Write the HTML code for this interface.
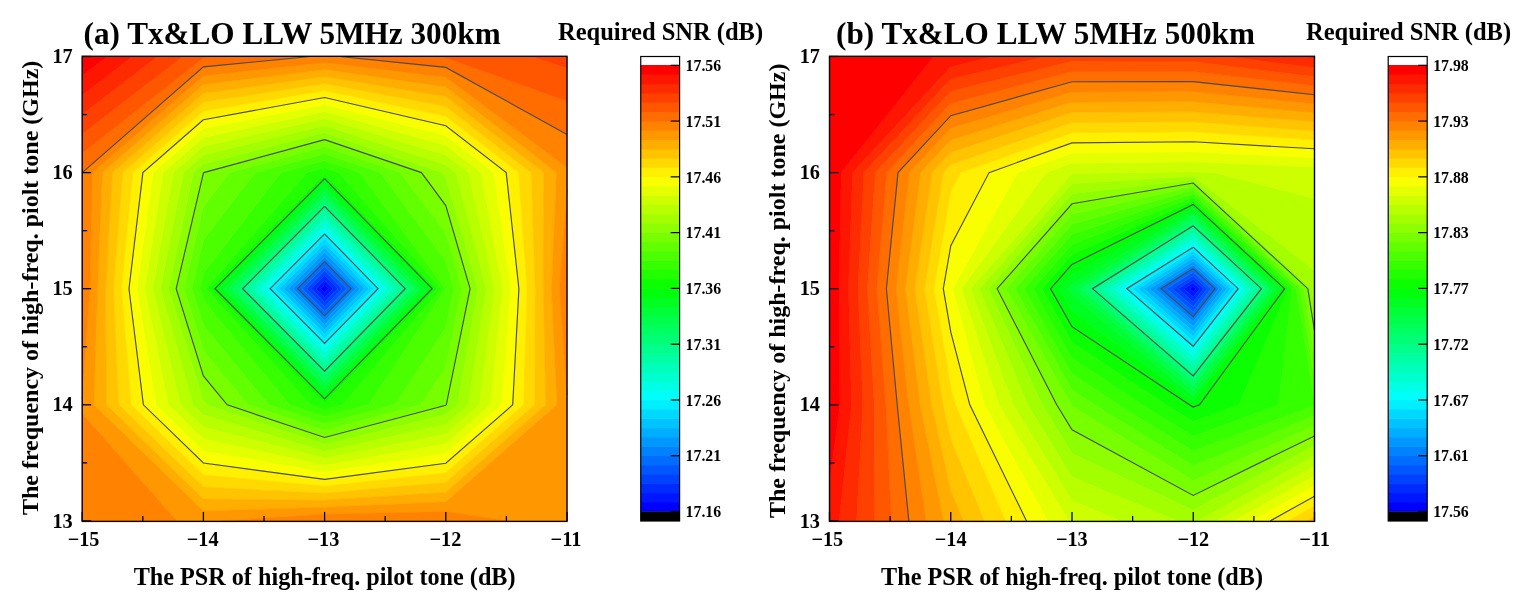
<!DOCTYPE html>
<html><head><meta charset="utf-8"><title>Required SNR contour maps</title>
<style>
html,body{margin:0;padding:0;background:#fff;}
body{width:1523px;height:603px;overflow:hidden;}
svg{display:block;}
text{font-family:"Liberation Serif","Times New Roman",serif;font-weight:bold;fill:#000;}
.ti{font-size:31.2px;}
.cbt{font-size:24.5px;}
.cb{font-size:15.8px;}
.tk{font-size:20.3px;}
.ax{font-size:24.2px;}
.ay{font-size:24px;}
</style></head><body>
<svg width="1523" height="603" viewBox="0 0 1523 603">
<rect width="1523" height="603" fill="#fff"/>
<path fill="#0000ff" stroke="#0000ff" stroke-width="0.6" d="M320.6 288.7L324.6 284.7L328.5 288.7L324.6 292.7L320.6 288.7Z"/>
<path fill="#0016ff" stroke="#0016ff" stroke-width="0.6" d="M316.0 288.7L324.6 280.1L333.0 288.7L324.6 297.3L316.0 288.7ZM324.6 284.7L320.6 288.7L324.6 292.7L328.5 288.7L324.6 284.7Z"/>
<path fill="#002bff" stroke="#002bff" stroke-width="0.6" d="M311.4 288.7L324.6 275.4L337.6 288.7L324.6 302.0L311.4 288.7ZM324.6 280.1L316.0 288.7L324.6 297.3L333.0 288.7L324.6 280.1Z"/>
<path fill="#0041ff" stroke="#0041ff" stroke-width="0.6" d="M306.8 288.7L324.6 270.8L342.1 288.7L324.6 306.6L306.8 288.7ZM324.6 275.4L311.4 288.7L324.6 302.0L337.6 288.7L324.6 275.4Z"/>
<path fill="#0057ff" stroke="#0057ff" stroke-width="0.6" d="M302.2 288.7L324.6 266.2L346.6 288.7L324.6 311.2L302.2 288.7ZM324.6 270.8L306.8 288.7L324.6 306.6L342.1 288.7L324.6 270.8Z"/>
<path fill="#006dff" stroke="#006dff" stroke-width="0.6" d="M297.6 288.7L324.6 261.6L351.1 288.7L324.6 315.8L297.6 288.7ZM324.6 266.2L302.2 288.7L324.6 311.2L346.6 288.7L324.6 266.2Z"/>
<path fill="#0082ff" stroke="#0082ff" stroke-width="0.6" d="M293.1 288.7L324.6 257.0L355.6 288.7L324.6 320.4L293.1 288.7ZM324.6 261.6L297.6 288.7L324.6 315.8L351.1 288.7L324.6 261.6Z"/>
<path fill="#0098ff" stroke="#0098ff" stroke-width="0.6" d="M288.5 288.7L324.6 252.4L360.1 288.7L324.6 325.0L288.5 288.7ZM324.6 257.0L293.1 288.7L324.6 320.4L355.6 288.7L324.6 257.0Z"/>
<path fill="#00aeff" stroke="#00aeff" stroke-width="0.6" d="M283.9 288.7L324.6 247.8L364.6 288.7L324.6 329.6L283.9 288.7ZM324.6 252.4L288.5 288.7L324.6 325.0L360.1 288.7L324.6 252.4Z"/>
<path fill="#00c3ff" stroke="#00c3ff" stroke-width="0.6" d="M279.3 288.7L324.6 243.2L369.1 288.7L324.6 334.2L279.3 288.7ZM324.6 247.8L283.9 288.7L324.6 329.6L364.6 288.7L324.6 247.8Z"/>
<path fill="#00d9ff" stroke="#00d9ff" stroke-width="0.6" d="M274.7 288.7L324.6 238.5L373.6 288.7L324.6 338.8L274.7 288.7ZM324.6 243.2L279.3 288.7L324.6 334.2L369.1 288.7L324.6 243.2Z"/>
<path fill="#00efff" stroke="#00efff" stroke-width="0.6" d="M270.1 288.7L324.6 233.9L378.1 288.7L324.6 343.5L270.1 288.7ZM324.6 238.5L274.7 288.7L324.6 338.8L373.6 288.7L324.6 238.5Z"/>
<path fill="#00fffa" stroke="#00fffa" stroke-width="0.6" d="M265.5 288.7L324.6 229.3L382.6 288.7L324.6 348.1L265.5 288.7ZM324.6 233.9L270.1 288.7L324.6 343.5L378.1 288.7L324.6 233.9Z"/>
<path fill="#00ffe4" stroke="#00ffe4" stroke-width="0.6" d="M260.9 288.7L324.6 224.7L387.1 288.7L324.6 352.7L260.9 288.7ZM324.6 229.3L265.5 288.7L324.6 348.1L382.6 288.7L324.6 229.3Z"/>
<path fill="#00ffce" stroke="#00ffce" stroke-width="0.6" d="M256.3 288.7L324.6 220.1L391.6 288.7L324.6 357.3L256.3 288.7ZM324.6 224.7L260.9 288.7L324.6 352.7L387.1 288.7L324.6 224.7Z"/>
<path fill="#00ffb8" stroke="#00ffb8" stroke-width="0.6" d="M251.7 288.7L324.6 215.5L396.2 288.7L324.6 361.9L251.7 288.7ZM324.6 220.1L256.3 288.7L324.6 357.3L391.6 288.7L324.6 220.1Z"/>
<path fill="#00ffa3" stroke="#00ffa3" stroke-width="0.6" d="M247.1 288.7L324.6 210.9L400.7 288.7L324.6 366.5L247.1 288.7ZM324.6 215.5L251.7 288.7L324.6 361.9L396.2 288.7L324.6 215.5Z"/>
<path fill="#00ff8d" stroke="#00ff8d" stroke-width="0.6" d="M242.6 288.7L324.6 206.3L405.2 288.7L324.6 371.1L242.6 288.7ZM324.6 210.9L247.1 288.7L324.6 366.5L400.7 288.7L324.6 210.9Z"/>
<path fill="#00ff77" stroke="#00ff77" stroke-width="0.6" d="M238.0 288.7L324.6 201.6L409.7 288.7L324.6 375.7L238.0 288.7ZM324.6 206.3L242.6 288.7L324.6 371.1L405.2 288.7L324.6 206.3Z"/>
<path fill="#00ff62" stroke="#00ff62" stroke-width="0.6" d="M233.4 288.7L324.6 197.0L414.2 288.7L324.6 380.4L233.4 288.7ZM324.6 201.6L238.0 288.7L324.6 375.7L409.7 288.7L324.6 201.6Z"/>
<path fill="#00ff4c" stroke="#00ff4c" stroke-width="0.6" d="M228.8 288.7L324.6 192.4L418.7 288.7L324.6 385.0L228.8 288.7ZM324.6 197.0L233.4 288.7L324.6 380.4L414.2 288.7L324.6 197.0Z"/>
<path fill="#00ff36" stroke="#00ff36" stroke-width="0.6" d="M224.2 288.7L324.6 187.8L423.2 288.7L324.6 389.6L224.2 288.7ZM324.6 192.4L228.8 288.7L324.6 385.0L418.7 288.7L324.6 192.4Z"/>
<path fill="#00ff21" stroke="#00ff21" stroke-width="0.6" d="M219.6 288.7L324.6 183.2L427.7 288.7L324.6 394.2L219.6 288.7ZM324.6 187.8L224.2 288.7L324.6 389.6L423.2 288.7L324.6 187.8Z"/>
<path fill="#00ff0b" stroke="#00ff0b" stroke-width="0.6" d="M215.0 288.7L324.6 178.6L432.2 288.7L324.6 398.8L215.0 288.7ZM324.6 183.2L219.6 288.7L324.6 394.2L427.7 288.7L324.6 183.2Z"/>
<path fill="#0bff00" stroke="#0bff00" stroke-width="0.6" d="M210.4 288.7L324.6 174.0L436.7 288.7L324.6 403.4L210.4 288.7ZM324.6 178.6L215.0 288.7L324.6 398.8L432.2 288.7L324.6 178.6Z"/>
<path fill="#21ff00" stroke="#21ff00" stroke-width="0.6" d="M306.5 172.6L324.6 167.7L339.1 172.6L441.2 288.7L342.9 404.8L324.6 409.7L310.1 404.8L205.8 288.7L306.5 172.6ZM324.6 174.0L210.4 288.7L324.6 403.4L436.7 288.7L324.6 174.0Z"/>
<path fill="#36ff00" stroke="#36ff00" stroke-width="0.6" d="M280.8 172.6L324.6 160.6L359.7 172.6L445.7 288.7L368.9 404.8L324.6 416.7L289.4 404.8L203.4 300.5L199.7 288.7L203.4 273.0L280.8 172.6ZM324.6 167.7L306.5 172.6L205.8 288.7L310.1 404.8L324.6 409.7L342.9 404.8L441.2 288.7L339.1 172.6L324.6 167.7Z"/>
<path fill="#4cff00" stroke="#4cff00" stroke-width="0.6" d="M255.1 172.6L324.6 153.6L380.3 172.6L445.8 261.2L453.8 288.7L445.8 327.7L395.0 404.8L324.6 423.6L268.7 404.8L203.4 325.6L191.9 288.7L203.4 239.7L255.1 172.6ZM324.6 160.6L280.8 172.6L203.4 273.0L199.7 288.7L203.4 300.5L289.4 404.8L324.6 416.7L368.9 404.8L445.7 288.7L359.7 172.6L324.6 160.6Z"/>
<path fill="#62ff00" stroke="#62ff00" stroke-width="0.6" d="M229.4 172.6L324.6 146.6L400.8 172.6L445.8 233.4L462.0 288.7L445.8 367.2L421.0 404.8L324.6 430.6L247.9 404.8L203.4 350.8L184.0 288.7L203.4 206.3L229.4 172.6ZM324.6 153.6L255.1 172.6L203.4 239.7L191.9 288.7L203.4 325.6L268.7 404.8L324.6 423.6L395.0 404.8L445.8 327.7L453.8 288.7L445.8 261.2L380.3 172.6L324.6 153.6Z"/>
<path fill="#77ff00" stroke="#77ff00" stroke-width="0.6" d="M203.7 172.6L324.6 139.6L421.4 172.6L445.8 205.6L470.1 288.7L446.3 404.8L445.8 405.3L324.6 437.5L227.2 404.8L203.4 375.9L176.2 288.7L203.4 173.0L203.7 172.6ZM324.6 146.6L229.4 172.6L203.4 206.3L184.0 288.7L203.4 350.8L247.9 404.8L324.6 430.6L421.0 404.8L445.8 367.2L462.0 288.7L445.8 233.4L400.8 172.6L324.6 146.6Z"/>
<path fill="#8dff00" stroke="#8dff00" stroke-width="0.6" d="M193.4 172.6L203.4 163.9L324.6 132.6L442.0 172.6L445.8 177.7L478.2 288.7L457.4 404.8L445.8 414.9L324.6 444.5L206.5 404.8L203.4 401.0L168.3 288.7L193.4 172.6ZM324.6 139.6L203.7 172.6L203.4 173.0L176.2 288.7L203.4 375.9L227.2 404.8L324.6 437.5L445.8 405.3L446.3 404.8L470.1 288.7L445.8 205.6L421.4 172.6L324.6 139.6Z"/>
<path fill="#a3ff00" stroke="#a3ff00" stroke-width="0.6" d="M183.3 172.6L203.4 155.1L324.6 125.5L445.8 164.7L456.0 172.6L486.4 288.7L468.4 404.8L445.8 424.6L324.6 451.5L203.4 415.0L192.9 404.8L160.4 288.7L183.3 172.6ZM203.4 163.9L193.4 172.6L168.3 288.7L203.4 401.0L206.5 404.8L324.6 444.5L445.8 414.9L457.4 404.8L478.2 288.7L445.8 177.7L442.0 172.6L324.6 132.6L203.4 163.9Z"/>
<path fill="#b8ff00" stroke="#b8ff00" stroke-width="0.6" d="M173.2 172.6L203.4 146.2L324.6 118.5L445.8 154.9L468.6 172.6L494.5 288.7L479.5 404.8L445.8 434.2L324.6 458.4L203.4 427.0L180.5 404.8L152.6 288.7L173.2 172.6ZM203.4 155.1L183.3 172.6L160.4 288.7L192.9 404.8L203.4 415.0L324.6 451.5L445.8 424.6L468.4 404.8L486.4 288.7L456.0 172.6L445.8 164.7L324.6 125.5L203.4 155.1Z"/>
<path fill="#ceff00" stroke="#ceff00" stroke-width="0.6" d="M163.1 172.6L203.4 137.4L324.6 111.5L445.8 145.2L481.1 172.6L502.6 288.7L490.5 404.8L445.8 443.9L324.6 465.4L203.4 439.0L168.2 404.8L144.7 288.7L163.1 172.6ZM203.4 146.2L173.2 172.6L152.6 288.7L180.5 404.8L203.4 427.0L324.6 458.4L445.8 434.2L479.5 404.8L494.5 288.7L468.6 172.6L445.8 154.9L324.6 118.5L203.4 146.2Z"/>
<path fill="#e4ff00" stroke="#e4ff00" stroke-width="0.6" d="M153.0 172.6L203.4 128.6L324.6 104.5L445.8 135.5L493.7 172.6L510.8 288.7L501.6 404.8L445.8 453.5L324.6 472.4L203.4 451.0L155.8 404.8L136.9 288.7L153.0 172.6ZM203.4 137.4L163.1 172.6L144.7 288.7L168.2 404.8L203.4 439.0L324.6 465.4L445.8 443.9L490.5 404.8L502.6 288.7L481.1 172.6L445.8 145.2L324.6 111.5L203.4 137.4Z"/>
<path fill="#faff00" stroke="#faff00" stroke-width="0.6" d="M142.9 172.6L203.4 119.8L324.6 97.5L445.8 125.8L506.2 172.6L518.9 288.7L512.7 404.8L445.8 463.2L324.6 479.3L203.4 463.0L143.4 404.8L129.0 288.7L142.9 172.6ZM203.4 128.6L153.0 172.6L136.9 288.7L155.8 404.8L203.4 451.0L324.6 472.4L445.8 453.5L501.6 404.8L510.8 288.7L493.7 172.6L445.8 135.5L324.6 104.5L203.4 128.6Z"/>
<path fill="#ffef00" stroke="#ffef00" stroke-width="0.6" d="M132.7 172.6L203.4 111.0L324.6 90.4L445.8 116.1L518.7 172.6L527.1 288.7L523.7 404.8L445.8 472.9L324.6 486.3L203.4 475.0L131.1 404.8L121.2 288.7L132.7 172.6ZM203.4 119.8L142.9 172.6L129.0 288.7L143.4 404.8L203.4 463.0L324.6 479.3L445.8 463.2L512.7 404.8L518.9 288.7L506.2 172.6L445.8 125.8L324.6 97.5L203.4 119.8Z"/>
<path fill="#ffd900" stroke="#ffd900" stroke-width="0.6" d="M122.6 172.6L203.4 102.1L324.6 83.4L445.8 106.3L531.3 172.6L535.2 288.7L534.8 404.8L445.8 482.5L324.6 493.3L203.4 487.0L118.7 404.8L113.3 288.7L122.6 172.6ZM203.4 111.0L132.7 172.6L121.2 288.7L131.1 404.8L203.4 475.0L324.6 486.3L445.8 472.9L523.7 404.8L527.1 288.7L518.7 172.6L445.8 116.1L324.6 90.4L203.4 111.0Z"/>
<path fill="#ffc300" stroke="#ffc300" stroke-width="0.6" d="M112.5 172.6L203.4 93.3L324.6 76.4L445.8 96.6L543.8 172.6L543.3 288.7L545.8 404.8L445.8 492.2L324.6 500.2L203.4 499.0L106.3 404.8L105.5 288.7L112.5 172.6ZM203.4 102.1L122.6 172.6L113.3 288.7L118.7 404.8L203.4 487.0L324.6 493.3L445.8 482.5L534.8 404.8L535.2 288.7L531.3 172.6L445.8 106.3L324.6 83.4L203.4 102.1Z"/>
<path fill="#ffae00" stroke="#ffae00" stroke-width="0.6" d="M102.4 172.6L203.4 84.5L324.6 69.4L445.8 86.9L556.4 172.6L551.5 288.7L556.9 404.8L445.8 501.8L324.6 507.2L203.4 511.0L93.9 404.8L97.6 288.7L102.4 172.6ZM203.4 93.3L112.5 172.6L105.5 288.7L106.3 404.8L203.4 499.0L324.6 500.2L445.8 492.2L545.8 404.8L543.3 288.7L543.8 172.6L445.8 96.6L324.6 76.4L203.4 93.3Z"/>
<path fill="#ff9800" stroke="#ff9800" stroke-width="0.6" d="M92.3 172.6L203.4 75.7L324.6 62.4L445.8 77.2L567.0 167.5L567.0 172.6L567.0 189.4L559.6 288.7L567.0 395.0L567.0 404.8L567.0 520.9L508.8 520.9L445.8 511.5L324.6 514.2L222.1 520.9L203.4 520.9L176.7 520.9L82.2 413.5L82.2 404.8L82.2 399.0L89.8 288.7L92.3 172.6ZM203.4 84.5L102.4 172.6L97.6 288.7L93.9 404.8L203.4 511.0L324.6 507.2L445.8 501.8L556.9 404.8L551.5 288.7L556.4 172.6L445.8 86.9L324.6 69.4L203.4 84.5Z"/>
<path fill="#ff8200" stroke="#ff8200" stroke-width="0.6" d="M82.2 172.6L82.2 172.6L203.4 66.9L309.8 56.5L324.6 56.5L340.0 56.5L445.8 67.4L567.0 134.4L567.0 167.5L445.8 77.2L324.6 62.4L203.4 75.7L92.3 172.6L89.8 288.7L82.2 399.0L82.2 288.7L82.2 172.6ZM559.6 288.7L567.0 189.4L567.0 288.7L567.0 395.0L559.6 288.7ZM82.2 520.9L82.2 413.5L176.7 520.9L82.2 520.9ZM222.1 520.9L324.6 514.2L445.8 511.5L508.8 520.9L445.8 520.9L324.6 520.9L222.1 520.9Z"/>
<path fill="#ff6d00" stroke="#ff6d00" stroke-width="0.6" d="M82.2 172.6L82.2 153.2L203.4 58.0L219.3 56.5L309.8 56.5L203.4 66.9L82.2 172.6ZM340.0 56.5L434.0 56.5L445.8 57.7L567.0 101.3L567.0 134.4L445.8 67.4L340.0 56.5Z"/>
<path fill="#ff5700" stroke="#ff5700" stroke-width="0.6" d="M182.7 56.5L203.4 56.5L219.3 56.5L203.4 58.0L82.2 153.2L82.2 133.9L182.7 56.5ZM434.0 56.5L445.8 56.5L532.1 56.5L567.0 68.2L567.0 101.3L445.8 57.7L434.0 56.5Z"/>
<path fill="#ff4100" stroke="#ff4100" stroke-width="0.6" d="M157.6 56.5L182.7 56.5L82.2 133.9L82.2 114.5L157.6 56.5ZM532.1 56.5L567.0 56.5L567.0 68.2L532.1 56.5Z"/>
<path fill="#ff2b00" stroke="#ff2b00" stroke-width="0.6" d="M132.4 56.5L157.6 56.5L82.2 114.5L82.2 95.2L132.4 56.5Z"/>
<path fill="#ff1600" stroke="#ff1600" stroke-width="0.6" d="M107.3 56.5L132.4 56.5L82.2 95.2L82.2 75.8L107.3 56.5Z"/>
<path fill="#ff0000" stroke="#ff0000" stroke-width="0.6" d="M82.2 56.5L107.3 56.5L82.2 75.8L82.2 56.5Z"/>
<path fill="none" stroke="#4a4a4a" stroke-width="1.15" stroke-linejoin="miter" d="M324.6 261.6L297.6 288.7L324.6 315.8L351.1 288.7L324.6 261.6M324.6 233.9L270.1 288.7L324.6 343.5L378.1 288.7L324.6 233.9M324.6 206.3L242.6 288.7L324.6 371.1L405.2 288.7L324.6 206.3M324.6 178.6L215.0 288.7L324.6 398.8L432.2 288.7L324.6 178.6M324.6 139.6L203.7 172.6L203.4 173.0L176.2 288.7L203.4 375.9L227.2 404.8L324.6 437.5L445.8 405.3L446.3 404.8L470.1 288.7L445.8 205.6L421.4 172.6L324.6 139.6M203.4 119.8L142.9 172.6L129.0 288.7L143.4 404.8L203.4 463.0L324.6 479.3L445.8 463.2L512.7 404.8L518.9 288.7L506.2 172.6L445.8 125.8L324.6 97.5L203.4 119.8M309.8 56.5L203.4 66.9L82.2 172.6M567.0 134.4L445.8 67.4L340.0 56.5"/>
<line x1="82.20" y1="520.90" x2="82.20" y2="511.90" stroke="#000" stroke-width="1.3"/>
<line x1="82.20" y1="56.50" x2="91.20" y2="56.50" stroke="#000" stroke-width="1.3"/>
<line x1="142.80" y1="520.90" x2="142.80" y2="515.90" stroke="#000" stroke-width="1.3"/>
<line x1="82.20" y1="114.55" x2="87.20" y2="114.55" stroke="#000" stroke-width="1.3"/>
<line x1="203.40" y1="520.90" x2="203.40" y2="511.90" stroke="#000" stroke-width="1.3"/>
<line x1="82.20" y1="172.60" x2="91.20" y2="172.60" stroke="#000" stroke-width="1.3"/>
<line x1="264.00" y1="520.90" x2="264.00" y2="515.90" stroke="#000" stroke-width="1.3"/>
<line x1="82.20" y1="230.65" x2="87.20" y2="230.65" stroke="#000" stroke-width="1.3"/>
<line x1="324.60" y1="520.90" x2="324.60" y2="511.90" stroke="#000" stroke-width="1.3"/>
<line x1="82.20" y1="288.70" x2="91.20" y2="288.70" stroke="#000" stroke-width="1.3"/>
<line x1="385.20" y1="520.90" x2="385.20" y2="515.90" stroke="#000" stroke-width="1.3"/>
<line x1="82.20" y1="346.75" x2="87.20" y2="346.75" stroke="#000" stroke-width="1.3"/>
<line x1="445.80" y1="520.90" x2="445.80" y2="511.90" stroke="#000" stroke-width="1.3"/>
<line x1="82.20" y1="404.80" x2="91.20" y2="404.80" stroke="#000" stroke-width="1.3"/>
<line x1="506.40" y1="520.90" x2="506.40" y2="515.90" stroke="#000" stroke-width="1.3"/>
<line x1="82.20" y1="462.85" x2="87.20" y2="462.85" stroke="#000" stroke-width="1.3"/>
<line x1="567.00" y1="520.90" x2="567.00" y2="511.90" stroke="#000" stroke-width="1.3"/>
<line x1="82.20" y1="520.90" x2="91.20" y2="520.90" stroke="#000" stroke-width="1.3"/>
<rect x="82.20" y="56.30" width="484.80" height="465.10" fill="none" stroke="#000" stroke-width="1.4"/>
<text class="tk" x="83.60" y="546.30" text-anchor="middle">&#8722;15</text>
<text class="tk" x="202.65" y="546.30" text-anchor="middle">&#8722;14</text>
<text class="tk" x="323.45" y="546.30" text-anchor="middle">&#8722;13</text>
<text class="tk" x="445.40" y="546.30" text-anchor="middle">&#8722;12</text>
<text class="tk" x="565.95" y="546.30" text-anchor="middle">&#8722;11</text>
<text class="tk" x="72.70" y="63.10" text-anchor="end">17</text>
<text class="tk" x="72.70" y="179.20" text-anchor="end">16</text>
<text class="tk" x="72.70" y="295.30" text-anchor="end">15</text>
<text class="tk" x="72.70" y="411.40" text-anchor="end">14</text>
<text class="tk" x="72.70" y="527.50" text-anchor="end">13</text>
<text class="ax" x="324.60" y="584.6" text-anchor="middle">The PSR of high-freq. pilot tone (dB)</text>
<text class="ay" transform="translate(38.20 287.90) rotate(-90)" x="0" y="0" text-anchor="middle">The frequency of high-freq. piolt tone (GHz)</text>
<text class="ti" x="83.6" y="44">(a) Tx&amp;LO LLW 5MHz 300km</text>
<text class="cbt" x="558" y="39.6">Required SNR (dB)</text>
<rect x="640.75" y="56.50" width="38.85" height="8.80" fill="#fff"/>
<rect x="640.75" y="501.90" width="38.85" height="9.90" fill="#0000ff"/>
<rect x="640.75" y="492.61" width="38.85" height="9.90" fill="#0016ff"/>
<rect x="640.75" y="483.31" width="38.85" height="9.90" fill="#002bff"/>
<rect x="640.75" y="474.02" width="38.85" height="9.90" fill="#0041ff"/>
<rect x="640.75" y="464.72" width="38.85" height="9.90" fill="#0057ff"/>
<rect x="640.75" y="455.42" width="38.85" height="9.90" fill="#006dff"/>
<rect x="640.75" y="446.13" width="38.85" height="9.90" fill="#0082ff"/>
<rect x="640.75" y="436.83" width="38.85" height="9.90" fill="#0098ff"/>
<rect x="640.75" y="427.54" width="38.85" height="9.90" fill="#00aeff"/>
<rect x="640.75" y="418.24" width="38.85" height="9.90" fill="#00c3ff"/>
<rect x="640.75" y="408.95" width="38.85" height="9.90" fill="#00d9ff"/>
<rect x="640.75" y="399.65" width="38.85" height="9.90" fill="#00efff"/>
<rect x="640.75" y="390.35" width="38.85" height="9.90" fill="#00fffa"/>
<rect x="640.75" y="381.06" width="38.85" height="9.90" fill="#00ffe4"/>
<rect x="640.75" y="371.76" width="38.85" height="9.90" fill="#00ffce"/>
<rect x="640.75" y="362.47" width="38.85" height="9.90" fill="#00ffb8"/>
<rect x="640.75" y="353.17" width="38.85" height="9.90" fill="#00ffa3"/>
<rect x="640.75" y="343.88" width="38.85" height="9.90" fill="#00ff8d"/>
<rect x="640.75" y="334.58" width="38.85" height="9.90" fill="#00ff77"/>
<rect x="640.75" y="325.28" width="38.85" height="9.90" fill="#00ff62"/>
<rect x="640.75" y="315.99" width="38.85" height="9.90" fill="#00ff4c"/>
<rect x="640.75" y="306.69" width="38.85" height="9.90" fill="#00ff36"/>
<rect x="640.75" y="297.40" width="38.85" height="9.90" fill="#00ff21"/>
<rect x="640.75" y="288.10" width="38.85" height="9.90" fill="#00ff0b"/>
<rect x="640.75" y="278.80" width="38.85" height="9.90" fill="#0bff00"/>
<rect x="640.75" y="269.51" width="38.85" height="9.90" fill="#21ff00"/>
<rect x="640.75" y="260.21" width="38.85" height="9.90" fill="#36ff00"/>
<rect x="640.75" y="250.92" width="38.85" height="9.90" fill="#4cff00"/>
<rect x="640.75" y="241.62" width="38.85" height="9.90" fill="#62ff00"/>
<rect x="640.75" y="232.33" width="38.85" height="9.90" fill="#77ff00"/>
<rect x="640.75" y="223.03" width="38.85" height="9.90" fill="#8dff00"/>
<rect x="640.75" y="213.73" width="38.85" height="9.90" fill="#a3ff00"/>
<rect x="640.75" y="204.44" width="38.85" height="9.90" fill="#b8ff00"/>
<rect x="640.75" y="195.14" width="38.85" height="9.90" fill="#ceff00"/>
<rect x="640.75" y="185.85" width="38.85" height="9.90" fill="#e4ff00"/>
<rect x="640.75" y="176.55" width="38.85" height="9.90" fill="#faff00"/>
<rect x="640.75" y="167.25" width="38.85" height="9.90" fill="#ffef00"/>
<rect x="640.75" y="157.96" width="38.85" height="9.90" fill="#ffd900"/>
<rect x="640.75" y="148.66" width="38.85" height="9.90" fill="#ffc300"/>
<rect x="640.75" y="139.37" width="38.85" height="9.90" fill="#ffae00"/>
<rect x="640.75" y="130.07" width="38.85" height="9.90" fill="#ff9800"/>
<rect x="640.75" y="120.78" width="38.85" height="9.90" fill="#ff8200"/>
<rect x="640.75" y="111.48" width="38.85" height="9.90" fill="#ff6d00"/>
<rect x="640.75" y="102.18" width="38.85" height="9.90" fill="#ff5700"/>
<rect x="640.75" y="92.89" width="38.85" height="9.90" fill="#ff4100"/>
<rect x="640.75" y="83.59" width="38.85" height="9.90" fill="#ff2b00"/>
<rect x="640.75" y="74.30" width="38.85" height="9.90" fill="#ff1600"/>
<rect x="640.75" y="65.00" width="38.85" height="9.90" fill="#ff0000"/>
<rect x="640.75" y="511.50" width="38.85" height="9.50" fill="#000"/>
<rect x="640.75" y="56.50" width="38.85" height="464.50" fill="none" stroke="#000" stroke-width="1.2"/>
<line x1="670.60" y1="511.50" x2="679.60" y2="511.50" stroke="#000" stroke-width="1.2"/>
<text class="cb" x="685.60" y="517.20">17.16</text>
<line x1="670.60" y1="455.73" x2="679.60" y2="455.73" stroke="#000" stroke-width="1.2"/>
<text class="cb" x="685.60" y="461.43">17.21</text>
<line x1="670.60" y1="399.95" x2="679.60" y2="399.95" stroke="#000" stroke-width="1.2"/>
<text class="cb" x="685.60" y="405.65">17.26</text>
<line x1="670.60" y1="344.18" x2="679.60" y2="344.18" stroke="#000" stroke-width="1.2"/>
<text class="cb" x="685.60" y="349.88">17.31</text>
<line x1="670.60" y1="288.40" x2="679.60" y2="288.40" stroke="#000" stroke-width="1.2"/>
<text class="cb" x="685.60" y="294.10">17.36</text>
<line x1="670.60" y1="232.62" x2="679.60" y2="232.62" stroke="#000" stroke-width="1.2"/>
<text class="cb" x="685.60" y="238.32">17.41</text>
<line x1="670.60" y1="176.85" x2="679.60" y2="176.85" stroke="#000" stroke-width="1.2"/>
<text class="cb" x="685.60" y="182.55">17.46</text>
<line x1="670.60" y1="121.07" x2="679.60" y2="121.07" stroke="#000" stroke-width="1.2"/>
<text class="cb" x="685.60" y="126.77">17.51</text>
<line x1="670.60" y1="65.30" x2="679.60" y2="65.30" stroke="#000" stroke-width="1.2"/>
<text class="cb" x="685.60" y="71.00">17.56</text>
<path fill="#0000ff" stroke="#0000ff" stroke-width="0.6" d="M1189.5 288.7L1193.2 286.4L1195.8 288.7L1193.2 291.9L1189.5 288.7Z"/>
<path fill="#0016ff" stroke="#0016ff" stroke-width="0.6" d="M1183.8 288.7L1193.2 282.8L1199.6 288.7L1193.2 296.9L1183.8 288.7ZM1193.2 286.4L1189.5 288.7L1193.2 291.9L1195.8 288.7L1193.2 286.4Z"/>
<path fill="#002bff" stroke="#002bff" stroke-width="0.6" d="M1178.1 288.7L1193.2 279.3L1203.5 288.7L1193.2 301.8L1178.1 288.7ZM1193.2 282.8L1183.8 288.7L1193.2 296.9L1199.6 288.7L1193.2 282.8Z"/>
<path fill="#0041ff" stroke="#0041ff" stroke-width="0.6" d="M1172.4 288.7L1193.2 275.7L1207.3 288.7L1193.2 306.7L1172.4 288.7ZM1193.2 279.3L1178.1 288.7L1193.2 301.8L1203.5 288.7L1193.2 279.3Z"/>
<path fill="#0057ff" stroke="#0057ff" stroke-width="0.6" d="M1166.7 288.7L1193.2 272.1L1211.2 288.7L1193.2 311.7L1166.7 288.7ZM1193.2 275.7L1172.4 288.7L1193.2 306.7L1207.3 288.7L1193.2 275.7Z"/>
<path fill="#006dff" stroke="#006dff" stroke-width="0.6" d="M1161.0 288.7L1193.2 268.6L1215.1 288.7L1193.2 316.6L1161.0 288.7ZM1193.2 272.1L1166.7 288.7L1193.2 311.7L1211.2 288.7L1193.2 272.1Z"/>
<path fill="#0082ff" stroke="#0082ff" stroke-width="0.6" d="M1155.3 288.7L1193.2 265.0L1218.9 288.7L1193.2 321.6L1155.3 288.7ZM1193.2 268.6L1161.0 288.7L1193.2 316.6L1215.1 288.7L1193.2 268.6Z"/>
<path fill="#0098ff" stroke="#0098ff" stroke-width="0.6" d="M1149.6 288.7L1193.2 261.4L1222.8 288.7L1193.2 326.5L1149.6 288.7ZM1193.2 265.0L1155.3 288.7L1193.2 321.6L1218.9 288.7L1193.2 265.0Z"/>
<path fill="#00aeff" stroke="#00aeff" stroke-width="0.6" d="M1143.9 288.7L1193.2 257.9L1226.7 288.7L1193.2 331.5L1143.9 288.7ZM1193.2 261.4L1149.6 288.7L1193.2 326.5L1222.8 288.7L1193.2 261.4Z"/>
<path fill="#00c3ff" stroke="#00c3ff" stroke-width="0.6" d="M1138.2 288.7L1193.2 254.3L1230.5 288.7L1193.2 336.4L1138.2 288.7ZM1193.2 257.9L1143.9 288.7L1193.2 331.5L1226.7 288.7L1193.2 257.9Z"/>
<path fill="#00d9ff" stroke="#00d9ff" stroke-width="0.6" d="M1132.5 288.7L1193.2 250.7L1234.4 288.7L1193.2 341.3L1132.5 288.7ZM1193.2 254.3L1138.2 288.7L1193.2 336.4L1230.5 288.7L1193.2 254.3Z"/>
<path fill="#00efff" stroke="#00efff" stroke-width="0.6" d="M1126.7 288.7L1193.2 247.2L1238.2 288.7L1193.2 346.3L1126.7 288.7ZM1193.2 250.7L1132.5 288.7L1193.2 341.3L1234.4 288.7L1193.2 250.7Z"/>
<path fill="#00fffa" stroke="#00fffa" stroke-width="0.6" d="M1121.0 288.7L1193.2 243.6L1242.1 288.7L1193.2 351.2L1121.0 288.7ZM1193.2 247.2L1126.7 288.7L1193.2 346.3L1238.2 288.7L1193.2 247.2Z"/>
<path fill="#00ffe4" stroke="#00ffe4" stroke-width="0.6" d="M1115.3 288.7L1193.2 240.0L1246.0 288.7L1193.2 356.2L1115.3 288.7ZM1193.2 243.6L1121.0 288.7L1193.2 351.2L1242.1 288.7L1193.2 243.6Z"/>
<path fill="#00ffce" stroke="#00ffce" stroke-width="0.6" d="M1109.6 288.7L1193.2 236.5L1249.8 288.7L1193.2 361.1L1109.6 288.7ZM1193.2 240.0L1115.3 288.7L1193.2 356.2L1246.0 288.7L1193.2 240.0Z"/>
<path fill="#00ffb8" stroke="#00ffb8" stroke-width="0.6" d="M1103.9 288.7L1193.2 232.9L1253.7 288.7L1193.2 366.0L1103.9 288.7ZM1193.2 236.5L1109.6 288.7L1193.2 361.1L1249.8 288.7L1193.2 236.5Z"/>
<path fill="#00ffa3" stroke="#00ffa3" stroke-width="0.6" d="M1098.2 288.7L1193.2 229.4L1257.5 288.7L1193.2 371.0L1098.2 288.7ZM1193.2 232.9L1103.9 288.7L1193.2 366.0L1253.7 288.7L1193.2 232.9Z"/>
<path fill="#00ff8d" stroke="#00ff8d" stroke-width="0.6" d="M1092.5 288.7L1193.2 225.8L1261.4 288.7L1193.2 375.9L1092.5 288.7ZM1193.2 229.4L1098.2 288.7L1193.2 371.0L1257.5 288.7L1193.2 229.4Z"/>
<path fill="#00ff77" stroke="#00ff77" stroke-width="0.6" d="M1086.8 288.7L1193.2 222.2L1265.3 288.7L1193.2 380.9L1086.8 288.7ZM1193.2 225.8L1092.5 288.7L1193.2 375.9L1261.4 288.7L1193.2 225.8Z"/>
<path fill="#00ff62" stroke="#00ff62" stroke-width="0.6" d="M1081.1 288.7L1193.2 218.7L1269.1 288.7L1193.2 385.8L1081.1 288.7ZM1193.2 222.2L1086.8 288.7L1193.2 380.9L1265.3 288.7L1193.2 222.2Z"/>
<path fill="#00ff4c" stroke="#00ff4c" stroke-width="0.6" d="M1075.4 288.7L1193.2 215.1L1273.0 288.7L1193.2 390.8L1075.4 288.7ZM1193.2 218.7L1081.1 288.7L1193.2 385.8L1269.1 288.7L1193.2 218.7Z"/>
<path fill="#00ff36" stroke="#00ff36" stroke-width="0.6" d="M1068.4 288.7L1072.0 284.6L1193.2 211.5L1276.9 288.7L1193.2 395.7L1072.0 295.2L1068.4 288.7ZM1193.2 215.1L1075.4 288.7L1193.2 390.8L1273.0 288.7L1193.2 215.1Z"/>
<path fill="#00ff21" stroke="#00ff21" stroke-width="0.6" d="M1059.5 288.7L1072.0 274.5L1193.2 208.0L1280.7 288.7L1193.2 400.6L1072.0 310.9L1059.5 288.7ZM1072.0 284.6L1068.4 288.7L1072.0 295.2L1193.2 395.7L1276.9 288.7L1193.2 211.5L1072.0 284.6Z"/>
<path fill="#00ff0b" stroke="#00ff0b" stroke-width="0.6" d="M1050.6 288.7L1072.0 264.4L1193.2 204.4L1284.6 288.7L1199.5 404.8L1193.2 407.1L1189.5 404.8L1072.0 326.7L1050.6 288.7ZM1072.0 274.5L1059.5 288.7L1072.0 310.9L1193.2 400.6L1280.7 288.7L1193.2 208.0L1072.0 274.5Z"/>
<path fill="#0bff00" stroke="#0bff00" stroke-width="0.6" d="M1041.7 288.7L1072.0 254.3L1193.2 200.8L1288.4 288.7L1239.1 404.8L1193.2 421.8L1165.7 404.8L1072.0 342.5L1041.7 288.7ZM1072.0 264.4L1050.6 288.7L1072.0 326.7L1189.5 404.8L1193.2 407.1L1199.5 404.8L1284.6 288.7L1193.2 204.4L1072.0 264.4Z"/>
<path fill="#21ff00" stroke="#21ff00" stroke-width="0.6" d="M1032.8 288.7L1072.0 244.2L1193.2 197.3L1292.3 288.7L1278.6 404.8L1193.2 436.6L1141.9 404.8L1072.0 358.3L1032.8 288.7ZM1072.0 254.3L1041.7 288.7L1072.0 342.5L1165.7 404.8L1193.2 421.8L1239.1 404.8L1288.4 288.7L1193.2 200.8L1072.0 254.3Z"/>
<path fill="#36ff00" stroke="#36ff00" stroke-width="0.6" d="M1023.8 288.7L1072.0 234.1L1193.2 193.7L1296.2 288.7L1314.5 402.6L1314.5 404.8L1314.5 405.7L1193.2 451.3L1118.2 404.8L1072.0 374.1L1023.8 288.7ZM1072.0 244.2L1032.8 288.7L1072.0 358.3L1141.9 404.8L1193.2 436.6L1278.6 404.8L1292.3 288.7L1193.2 197.3L1072.0 244.2Z"/>
<path fill="#4cff00" stroke="#4cff00" stroke-width="0.6" d="M1014.9 288.7L1072.0 224.0L1193.2 190.1L1300.0 288.7L1314.5 378.6L1314.5 402.6L1296.2 288.7L1193.2 193.7L1072.0 234.1L1023.8 288.7L1072.0 374.1L1118.2 404.8L1193.2 451.3L1314.5 405.7L1314.5 415.8L1193.2 466.0L1094.4 404.8L1072.0 389.9L1014.9 288.7Z"/>
<path fill="#62ff00" stroke="#62ff00" stroke-width="0.6" d="M1006.0 288.7L1072.0 213.9L1193.2 186.6L1303.9 288.7L1314.5 354.6L1314.5 378.6L1300.0 288.7L1193.2 190.1L1072.0 224.0L1014.9 288.7L1072.0 389.9L1094.4 404.8L1193.2 466.0L1314.5 415.8L1314.5 425.8L1193.2 480.7L1072.0 406.2L1071.2 404.8L1006.0 288.7Z"/>
<path fill="#77ff00" stroke="#77ff00" stroke-width="0.6" d="M997.1 288.7L1072.0 203.8L1193.2 183.0L1307.8 288.7L1314.5 330.6L1314.5 354.6L1303.9 288.7L1193.2 186.6L1072.0 213.9L1006.0 288.7L1071.2 404.8L1072.0 406.2L1193.2 480.7L1314.5 425.8L1314.5 435.9L1193.2 495.4L1072.0 429.8L1056.7 404.8L997.1 288.7Z"/>
<path fill="#8dff00" stroke="#8dff00" stroke-width="0.6" d="M988.2 288.7L1072.0 193.7L1193.2 179.5L1311.6 288.7L1314.5 306.6L1314.5 330.6L1307.8 288.7L1193.2 183.0L1072.0 203.8L997.1 288.7L1056.7 404.8L1072.0 429.8L1193.2 495.4L1314.5 435.9L1314.5 445.9L1193.2 510.2L1072.0 453.5L1042.2 404.8L988.2 288.7Z"/>
<path fill="#a3ff00" stroke="#a3ff00" stroke-width="0.6" d="M979.3 288.7L1072.0 183.6L1193.2 175.9L1314.5 270.5L1314.5 288.7L1314.5 306.6L1311.6 288.7L1193.2 179.5L1072.0 193.7L988.2 288.7L1042.2 404.8L1072.0 453.5L1193.2 510.2L1314.5 445.9L1314.5 456.0L1198.1 520.9L1193.2 520.9L1177.8 520.9L1072.0 477.1L1027.7 404.8L979.3 288.7Z"/>
<path fill="#b8ff00" stroke="#b8ff00" stroke-width="0.6" d="M1137.2 172.6L1193.2 171.8L1214.7 172.6L1314.5 198.5L1314.5 270.5L1193.2 175.9L1072.0 183.6L979.3 288.7L1027.7 404.8L1072.0 477.1L1177.8 520.9L1120.6 520.9L1072.0 500.8L1013.2 404.8L970.4 288.7L1072.0 173.5L1137.2 172.6ZM1198.1 520.9L1314.5 456.0L1314.5 466.0L1216.1 520.9L1198.1 520.9Z"/>
<path fill="#ceff00" stroke="#ceff00" stroke-width="0.6" d="M1046.1 172.6L1072.0 163.3L1193.2 161.8L1314.5 166.8L1314.5 172.6L1314.5 198.5L1214.7 172.6L1193.2 171.8L1137.2 172.6L1072.0 173.5L970.4 288.7L1013.2 404.8L1072.0 500.8L1120.6 520.9L1072.0 520.9L1068.8 520.9L998.8 404.8L961.5 288.7L1046.1 172.6ZM1216.1 520.9L1314.5 466.0L1314.5 476.1L1234.1 520.9L1216.1 520.9Z"/>
<path fill="#e4ff00" stroke="#e4ff00" stroke-width="0.6" d="M1017.6 172.6L1072.0 153.1L1193.2 151.8L1314.5 157.8L1314.5 166.8L1193.2 161.8L1072.0 163.3L1046.1 172.6L961.5 288.7L998.8 404.8L1068.8 520.9L1047.7 520.9L984.3 404.8L952.6 288.7L1017.6 172.6ZM1234.1 520.9L1314.5 476.1L1314.5 486.1L1252.2 520.9L1234.1 520.9Z"/>
<path fill="#faff00" stroke="#faff00" stroke-width="0.6" d="M989.1 172.6L1072.0 142.9L1193.2 141.8L1314.5 148.8L1314.5 157.8L1193.2 151.8L1072.0 153.1L1017.6 172.6L952.6 288.7L984.3 404.8L1047.7 520.9L1026.5 520.9L969.8 404.8L950.8 332.2L943.3 288.7L950.8 245.7L989.1 172.6ZM1252.2 520.9L1314.5 486.1L1314.5 496.2L1270.2 520.9L1252.2 520.9Z"/>
<path fill="#ffef00" stroke="#ffef00" stroke-width="0.6" d="M960.6 172.6L1072.0 132.7L1193.2 131.7L1314.5 139.8L1314.5 148.8L1193.2 141.8L1072.0 142.9L989.1 172.6L950.8 245.7L943.3 288.7L950.8 332.2L969.8 404.8L1026.5 520.9L1005.4 520.9L955.3 404.8L950.8 387.4L933.8 288.7L950.8 191.3L960.6 172.6ZM1270.2 520.9L1314.5 496.2L1314.5 506.2L1288.2 520.9L1270.2 520.9Z"/>
<path fill="#ffd900" stroke="#ffd900" stroke-width="0.6" d="M943.3 172.6L950.8 164.6L1072.0 122.5L1193.2 121.7L1314.5 130.8L1314.5 139.8L1193.2 131.7L1072.0 132.7L960.6 172.6L950.8 191.3L933.8 288.7L950.8 387.4L955.3 404.8L1005.4 520.9L984.3 520.9L950.8 439.8L942.9 404.8L924.3 288.7L943.3 172.6ZM1288.2 520.9L1314.5 506.2L1314.5 516.3L1306.2 520.9L1288.2 520.9Z"/>
<path fill="#ffc300" stroke="#ffc300" stroke-width="0.6" d="M932.0 172.6L950.8 152.3L1072.0 112.3L1193.2 111.7L1314.5 121.7L1314.5 130.8L1193.2 121.7L1072.0 122.5L950.8 164.6L943.3 172.6L924.3 288.7L942.9 404.8L950.8 439.8L984.3 520.9L963.1 520.9L950.8 491.0L931.5 404.8L914.8 288.7L932.0 172.6ZM1306.2 520.9L1314.5 516.3L1314.5 520.9L1306.2 520.9Z"/>
<path fill="#ffae00" stroke="#ffae00" stroke-width="0.6" d="M920.6 172.6L950.8 140.1L1072.0 102.1L1193.2 101.7L1314.5 112.7L1314.5 121.7L1193.2 111.7L1072.0 112.3L950.8 152.3L932.0 172.6L914.8 288.7L931.5 404.8L950.8 491.0L963.1 520.9L950.8 520.9L943.5 520.9L920.1 404.8L905.4 288.7L920.6 172.6Z"/>
<path fill="#ff9800" stroke="#ff9800" stroke-width="0.6" d="M909.3 172.6L950.8 127.9L1072.0 91.9L1193.2 91.6L1314.5 103.7L1314.5 112.7L1193.2 101.7L1072.0 102.1L950.8 140.1L920.6 172.6L905.4 288.7L920.1 404.8L943.5 520.9L926.1 520.9L908.6 404.8L895.9 288.7L909.3 172.6Z"/>
<path fill="#ff8200" stroke="#ff8200" stroke-width="0.6" d="M898.0 172.6L950.8 115.7L1072.0 81.7L1193.2 81.6L1314.5 94.7L1314.5 103.7L1193.2 91.6L1072.0 91.9L950.8 127.9L909.3 172.6L895.9 288.7L908.6 404.8L926.1 520.9L908.8 520.9L897.2 404.8L886.4 288.7L898.0 172.6Z"/>
<path fill="#ff6d00" stroke="#ff6d00" stroke-width="0.6" d="M886.6 172.6L950.8 103.4L1072.0 71.5L1193.2 71.6L1314.5 85.7L1314.5 94.7L1193.2 81.6L1072.0 81.7L950.8 115.7L898.0 172.6L886.4 288.7L897.2 404.8L908.8 520.9L891.4 520.9L885.8 404.8L876.9 288.7L886.6 172.6Z"/>
<path fill="#ff5700" stroke="#ff5700" stroke-width="0.6" d="M875.3 172.6L950.8 91.2L1072.0 61.3L1193.2 61.6L1314.5 76.7L1314.5 85.7L1193.2 71.6L1072.0 71.5L950.8 103.4L886.6 172.6L876.9 288.7L885.8 404.8L891.4 520.9L874.0 520.9L874.3 404.8L867.4 288.7L875.3 172.6Z"/>
<path fill="#ff4100" stroke="#ff4100" stroke-width="0.6" d="M863.9 172.6L950.8 79.0L1044.7 56.5L1072.0 56.5L1193.2 56.5L1228.0 56.5L1314.5 67.6L1314.5 76.7L1193.2 61.6L1072.0 61.3L950.8 91.2L875.3 172.6L867.4 288.7L874.3 404.8L874.0 520.9L856.6 520.9L862.9 404.8L858.0 288.7L863.9 172.6Z"/>
<path fill="#ff2b00" stroke="#ff2b00" stroke-width="0.6" d="M852.6 172.6L950.8 66.7L993.6 56.5L1044.7 56.5L950.8 79.0L863.9 172.6L858.0 288.7L862.9 404.8L856.6 520.9L839.2 520.9L851.5 404.8L848.5 288.7L852.6 172.6ZM1228.0 56.5L1298.0 56.5L1314.5 58.6L1314.5 67.6L1228.0 56.5Z"/>
<path fill="#ff1600" stroke="#ff1600" stroke-width="0.6" d="M933.8 56.5L950.8 56.5L993.6 56.5L950.8 66.7L852.6 172.6L848.5 288.7L851.5 404.8L839.2 520.9L829.5 520.9L829.5 483.3L840.0 404.8L839.0 288.7L841.3 172.6L933.8 56.5ZM1298.0 56.5L1314.5 56.5L1314.5 58.6L1298.0 56.5Z"/>
<path fill="#ff0000" stroke="#ff0000" stroke-width="0.6" d="M829.5 56.5L933.8 56.5L841.3 172.6L839.0 288.7L840.0 404.8L829.5 483.3L829.5 404.8L829.5 288.7L829.5 172.6L829.5 56.5Z"/>
<path fill="none" stroke="#4a4a4a" stroke-width="1.15" stroke-linejoin="miter" d="M1193.2 268.6L1161.0 288.7L1193.2 316.6L1215.1 288.7L1193.2 268.6M1193.2 247.2L1126.7 288.7L1193.2 346.3L1238.2 288.7L1193.2 247.2M1193.2 225.8L1092.5 288.7L1193.2 375.9L1261.4 288.7L1193.2 225.8M1072.0 264.4L1050.6 288.7L1072.0 326.7L1189.5 404.8L1193.2 407.1L1199.5 404.8L1284.6 288.7L1193.2 204.4L1072.0 264.4M1314.5 330.6L1307.8 288.7L1193.2 183.0L1072.0 203.8L997.1 288.7L1056.7 404.8L1072.0 429.8L1193.2 495.4L1314.5 435.9M1314.5 148.8L1193.2 141.8L1072.0 142.9L989.1 172.6L950.8 245.7L943.3 288.7L950.8 332.2L969.8 404.8L1026.5 520.9M1270.2 520.9L1314.5 496.2M1314.5 94.7L1193.2 81.6L1072.0 81.7L950.8 115.7L898.0 172.6L886.4 288.7L897.2 404.8L908.8 520.9"/>
<line x1="829.50" y1="520.90" x2="829.50" y2="511.90" stroke="#000" stroke-width="1.3"/>
<line x1="829.50" y1="56.50" x2="838.50" y2="56.50" stroke="#000" stroke-width="1.3"/>
<line x1="890.12" y1="520.90" x2="890.12" y2="515.90" stroke="#000" stroke-width="1.3"/>
<line x1="829.50" y1="114.55" x2="834.50" y2="114.55" stroke="#000" stroke-width="1.3"/>
<line x1="950.75" y1="520.90" x2="950.75" y2="511.90" stroke="#000" stroke-width="1.3"/>
<line x1="829.50" y1="172.60" x2="838.50" y2="172.60" stroke="#000" stroke-width="1.3"/>
<line x1="1011.38" y1="520.90" x2="1011.38" y2="515.90" stroke="#000" stroke-width="1.3"/>
<line x1="829.50" y1="230.65" x2="834.50" y2="230.65" stroke="#000" stroke-width="1.3"/>
<line x1="1072.00" y1="520.90" x2="1072.00" y2="511.90" stroke="#000" stroke-width="1.3"/>
<line x1="829.50" y1="288.70" x2="838.50" y2="288.70" stroke="#000" stroke-width="1.3"/>
<line x1="1132.62" y1="520.90" x2="1132.62" y2="515.90" stroke="#000" stroke-width="1.3"/>
<line x1="829.50" y1="346.75" x2="834.50" y2="346.75" stroke="#000" stroke-width="1.3"/>
<line x1="1193.25" y1="520.90" x2="1193.25" y2="511.90" stroke="#000" stroke-width="1.3"/>
<line x1="829.50" y1="404.80" x2="838.50" y2="404.80" stroke="#000" stroke-width="1.3"/>
<line x1="1253.88" y1="520.90" x2="1253.88" y2="515.90" stroke="#000" stroke-width="1.3"/>
<line x1="829.50" y1="462.85" x2="834.50" y2="462.85" stroke="#000" stroke-width="1.3"/>
<line x1="1314.50" y1="520.90" x2="1314.50" y2="511.90" stroke="#000" stroke-width="1.3"/>
<line x1="829.50" y1="520.90" x2="838.50" y2="520.90" stroke="#000" stroke-width="1.3"/>
<rect x="829.50" y="56.30" width="485.00" height="465.10" fill="none" stroke="#000" stroke-width="1.4"/>
<text class="tk" x="827.35" y="546.30" text-anchor="middle">&#8722;15</text>
<text class="tk" x="950.65" y="546.30" text-anchor="middle">&#8722;14</text>
<text class="tk" x="1071.80" y="546.30" text-anchor="middle">&#8722;13</text>
<text class="tk" x="1193.35" y="546.30" text-anchor="middle">&#8722;12</text>
<text class="tk" x="1314.55" y="546.30" text-anchor="middle">&#8722;11</text>
<text class="tk" x="820.00" y="63.10" text-anchor="end">17</text>
<text class="tk" x="820.00" y="179.20" text-anchor="end">16</text>
<text class="tk" x="820.00" y="295.30" text-anchor="end">15</text>
<text class="tk" x="820.00" y="411.40" text-anchor="end">14</text>
<text class="tk" x="820.00" y="527.50" text-anchor="end">13</text>
<text class="ax" x="1072.00" y="584.6" text-anchor="middle">The PSR of high-freq. pilot tone (dB)</text>
<text class="ay" transform="translate(784.70 290.80) rotate(-90)" x="0" y="0" text-anchor="middle">The frequency of high-freq. piolt tone (GHz)</text>
<text class="ti" x="836.1" y="44">(b) Tx&amp;LO LLW 5MHz 500km</text>
<text class="cbt" x="1306" y="39.6">Required SNR (dB)</text>
<rect x="1388.20" y="56.50" width="39.00" height="8.80" fill="#fff"/>
<rect x="1388.20" y="501.90" width="39.00" height="9.90" fill="#0000ff"/>
<rect x="1388.20" y="492.61" width="39.00" height="9.90" fill="#0016ff"/>
<rect x="1388.20" y="483.31" width="39.00" height="9.90" fill="#002bff"/>
<rect x="1388.20" y="474.02" width="39.00" height="9.90" fill="#0041ff"/>
<rect x="1388.20" y="464.72" width="39.00" height="9.90" fill="#0057ff"/>
<rect x="1388.20" y="455.42" width="39.00" height="9.90" fill="#006dff"/>
<rect x="1388.20" y="446.13" width="39.00" height="9.90" fill="#0082ff"/>
<rect x="1388.20" y="436.83" width="39.00" height="9.90" fill="#0098ff"/>
<rect x="1388.20" y="427.54" width="39.00" height="9.90" fill="#00aeff"/>
<rect x="1388.20" y="418.24" width="39.00" height="9.90" fill="#00c3ff"/>
<rect x="1388.20" y="408.95" width="39.00" height="9.90" fill="#00d9ff"/>
<rect x="1388.20" y="399.65" width="39.00" height="9.90" fill="#00efff"/>
<rect x="1388.20" y="390.35" width="39.00" height="9.90" fill="#00fffa"/>
<rect x="1388.20" y="381.06" width="39.00" height="9.90" fill="#00ffe4"/>
<rect x="1388.20" y="371.76" width="39.00" height="9.90" fill="#00ffce"/>
<rect x="1388.20" y="362.47" width="39.00" height="9.90" fill="#00ffb8"/>
<rect x="1388.20" y="353.17" width="39.00" height="9.90" fill="#00ffa3"/>
<rect x="1388.20" y="343.88" width="39.00" height="9.90" fill="#00ff8d"/>
<rect x="1388.20" y="334.58" width="39.00" height="9.90" fill="#00ff77"/>
<rect x="1388.20" y="325.28" width="39.00" height="9.90" fill="#00ff62"/>
<rect x="1388.20" y="315.99" width="39.00" height="9.90" fill="#00ff4c"/>
<rect x="1388.20" y="306.69" width="39.00" height="9.90" fill="#00ff36"/>
<rect x="1388.20" y="297.40" width="39.00" height="9.90" fill="#00ff21"/>
<rect x="1388.20" y="288.10" width="39.00" height="9.90" fill="#00ff0b"/>
<rect x="1388.20" y="278.80" width="39.00" height="9.90" fill="#0bff00"/>
<rect x="1388.20" y="269.51" width="39.00" height="9.90" fill="#21ff00"/>
<rect x="1388.20" y="260.21" width="39.00" height="9.90" fill="#36ff00"/>
<rect x="1388.20" y="250.92" width="39.00" height="9.90" fill="#4cff00"/>
<rect x="1388.20" y="241.62" width="39.00" height="9.90" fill="#62ff00"/>
<rect x="1388.20" y="232.33" width="39.00" height="9.90" fill="#77ff00"/>
<rect x="1388.20" y="223.03" width="39.00" height="9.90" fill="#8dff00"/>
<rect x="1388.20" y="213.73" width="39.00" height="9.90" fill="#a3ff00"/>
<rect x="1388.20" y="204.44" width="39.00" height="9.90" fill="#b8ff00"/>
<rect x="1388.20" y="195.14" width="39.00" height="9.90" fill="#ceff00"/>
<rect x="1388.20" y="185.85" width="39.00" height="9.90" fill="#e4ff00"/>
<rect x="1388.20" y="176.55" width="39.00" height="9.90" fill="#faff00"/>
<rect x="1388.20" y="167.25" width="39.00" height="9.90" fill="#ffef00"/>
<rect x="1388.20" y="157.96" width="39.00" height="9.90" fill="#ffd900"/>
<rect x="1388.20" y="148.66" width="39.00" height="9.90" fill="#ffc300"/>
<rect x="1388.20" y="139.37" width="39.00" height="9.90" fill="#ffae00"/>
<rect x="1388.20" y="130.07" width="39.00" height="9.90" fill="#ff9800"/>
<rect x="1388.20" y="120.78" width="39.00" height="9.90" fill="#ff8200"/>
<rect x="1388.20" y="111.48" width="39.00" height="9.90" fill="#ff6d00"/>
<rect x="1388.20" y="102.18" width="39.00" height="9.90" fill="#ff5700"/>
<rect x="1388.20" y="92.89" width="39.00" height="9.90" fill="#ff4100"/>
<rect x="1388.20" y="83.59" width="39.00" height="9.90" fill="#ff2b00"/>
<rect x="1388.20" y="74.30" width="39.00" height="9.90" fill="#ff1600"/>
<rect x="1388.20" y="65.00" width="39.00" height="9.90" fill="#ff0000"/>
<rect x="1388.20" y="511.50" width="39.00" height="9.50" fill="#000"/>
<rect x="1388.20" y="56.50" width="39.00" height="464.50" fill="none" stroke="#000" stroke-width="1.2"/>
<line x1="1418.20" y1="511.50" x2="1427.20" y2="511.50" stroke="#000" stroke-width="1.2"/>
<text class="cb" x="1433.20" y="517.20">17.56</text>
<line x1="1418.20" y1="455.73" x2="1427.20" y2="455.73" stroke="#000" stroke-width="1.2"/>
<text class="cb" x="1433.20" y="461.43">17.61</text>
<line x1="1418.20" y1="399.95" x2="1427.20" y2="399.95" stroke="#000" stroke-width="1.2"/>
<text class="cb" x="1433.20" y="405.65">17.67</text>
<line x1="1418.20" y1="344.18" x2="1427.20" y2="344.18" stroke="#000" stroke-width="1.2"/>
<text class="cb" x="1433.20" y="349.88">17.72</text>
<line x1="1418.20" y1="288.40" x2="1427.20" y2="288.40" stroke="#000" stroke-width="1.2"/>
<text class="cb" x="1433.20" y="294.10">17.77</text>
<line x1="1418.20" y1="232.62" x2="1427.20" y2="232.62" stroke="#000" stroke-width="1.2"/>
<text class="cb" x="1433.20" y="238.32">17.83</text>
<line x1="1418.20" y1="176.85" x2="1427.20" y2="176.85" stroke="#000" stroke-width="1.2"/>
<text class="cb" x="1433.20" y="182.55">17.88</text>
<line x1="1418.20" y1="121.07" x2="1427.20" y2="121.07" stroke="#000" stroke-width="1.2"/>
<text class="cb" x="1433.20" y="126.77">17.93</text>
<line x1="1418.20" y1="65.30" x2="1427.20" y2="65.30" stroke="#000" stroke-width="1.2"/>
<text class="cb" x="1433.20" y="71.00">17.98</text>
</svg>
</body></html>
